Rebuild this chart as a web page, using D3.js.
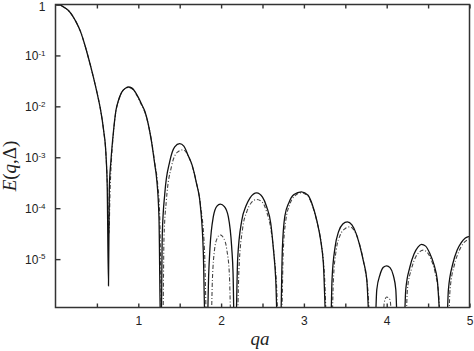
<!DOCTYPE html>
<html>
<head>
<meta charset="utf-8">
<script src="https://cdn.jsdelivr.net/npm/d3@7"></script>
<style>
  body { margin: 0; background: #fff; }
  svg { display: block; }
</style>
</head>
<body>
<script>
// solid curve, 0 = curve touches zero (off the log axis)
var solidQa = [0, 0.05, 0.1, 0.15, 0.2, 0.25, 0.3, 0.35, 0.4, 0.45, 0.5, 0.54, 0.58, 0.61, 0.625, 0.64,
  0.65, 0.67, 0.7, 0.73, 0.76, 0.8, 0.85, 0.88, 0.92, 0.96, 1.0, 1.04, 1.08, 1.12, 1.16, 1.2, 1.22, 1.25, 1.27,
  1.275, 1.29, 1.32, 1.38, 1.44, 1.5, 1.55, 1.6, 1.65, 1.7, 1.75, 1.785, 1.81,
  1.83, 1.85, 1.866, 1.906, 1.95, 1.99, 2.04, 2.087, 2.128, 2.145, 2.16,
  2.175, 2.2, 2.25, 2.3, 2.35, 2.43, 2.5, 2.55, 2.6, 2.63, 2.66, 2.685,
  2.715, 2.74, 2.77, 2.82, 2.88, 2.97, 3.05, 3.1, 3.155, 3.2, 3.235, 3.275,
  3.32, 3.34, 3.376, 3.42, 3.47, 3.524, 3.58, 3.63, 3.68, 3.72, 3.76, 3.8,
  3.855, 3.88, 3.92, 3.96, 4.0, 4.04, 4.08, 4.11, 4.135,
  4.205, 4.23, 4.28, 4.33, 4.38, 4.42, 4.47, 4.52, 4.57, 4.61, 4.665,
  4.72, 4.745, 4.8, 4.85, 4.9, 4.95, 5.0];
var solidE = [1, 0.98, 0.89, 0.78, 0.62, 0.45, 0.30, 0.17, 0.087, 0.042, 0.019, 9.3e-3, 3.5e-3, 1.1e-3, 2.5e-4, 3e-6,
  2.5e-4, 8.7e-4, 3.2e-3, 8.3e-3, 1.3e-2, 1.9e-2, 2.3e-2, 2.4e-2, 2.3e-2, 1.95e-2, 1.5e-2, 1.1e-2, 7.9e-3, 4.5e-3, 2.0e-3, 7e-4, 4e-4, 6.3e-5, 0,
  0, 3.2e-5, 1.95e-4, 8.3e-4, 1.6e-3, 1.85e-3, 1.65e-3, 1.1e-3, 7e-4, 3.2e-4, 1.1e-4, 1.4e-5, 0,
  0, 5e-6, 1.7e-5, 6.8e-5, 1.1e-4, 1.2e-4, 1.07e-4, 6.8e-5, 1.7e-5, 5e-6, 0,
  0, 1e-5, 5.8e-5, 1.1e-4, 1.6e-4, 2e-4, 1.65e-4, 1.07e-4, 5e-5, 1.7e-5, 4e-6, 0,
  0, 1.6e-5, 7e-5, 1.3e-4, 1.85e-4, 2.1e-4, 1.8e-4, 1.2e-4, 5.8e-5, 2.5e-5, 8.3e-6, 0,
  0, 4e-6, 1.7e-5, 3.5e-5, 4.9e-5, 5.4e-5, 4.7e-5, 3.2e-5, 1.7e-5, 8.9e-6, 3.9e-6, 0,
  0, 2.5e-6, 5e-6, 6.9e-6, 7.4e-6, 6.8e-6, 4.8e-6, 2.5e-6, 0,
  0, 2.5e-6, 7e-6, 1.26e-5, 1.74e-5, 1.95e-5, 1.8e-5, 1.3e-5, 7.9e-6, 4e-6, 0,
  0, 2.5e-6, 8.3e-6, 1.5e-5, 2.1e-5, 2.6e-5, 2.8e-5];

// dash-dot curve
var dashQa = [0, 0.05, 0.1, 0.15, 0.2, 0.25, 0.3, 0.35, 0.4, 0.45, 0.5, 0.54, 0.58, 0.61, 0.63, 0.645,
  0.66, 0.67, 0.7, 0.73, 0.76, 0.8, 0.85, 0.88, 0.92, 0.96, 1.0, 1.04, 1.08, 1.12, 1.16, 1.2, 1.23, 1.26, 1.285,
  1.295, 1.31, 1.34, 1.4, 1.47, 1.54, 1.6, 1.65, 1.7, 1.75, 1.8, 1.83,
  1.875, 1.895, 1.92, 1.95, 1.99, 2.03, 2.07, 2.1, 2.125,
  2.19, 2.215, 2.26, 2.31, 2.36, 2.43, 2.5, 2.55, 2.6, 2.64, 2.67, 2.695,
  2.725, 2.75, 2.78, 2.83, 2.89, 2.97, 3.05, 3.1, 3.16, 3.21, 3.245, 3.285,
  3.335, 3.355, 3.39, 3.44, 3.5, 3.55, 3.6, 3.65, 3.7, 3.74, 3.77, 3.81,
  3.95, 3.97, 4.0, 4.04, 4.075,
  4.225, 4.25, 4.3, 4.35, 4.4, 4.44, 4.49, 4.54, 4.59, 4.625, 4.66,
  4.74, 4.765, 4.82, 4.87, 4.92, 4.96, 5.0];
var dashE = [1, 0.98, 0.89, 0.78, 0.62, 0.45, 0.30, 0.17, 0.087, 0.042, 0.019, 9.3e-3, 3.5e-3, 1.1e-3, 2e-4, 3.2e-5,
  2.5e-4, 6e-4, 3e-3, 8e-3, 1.28e-2, 1.88e-2, 2.28e-2, 2.35e-2, 2.25e-2, 1.9e-2, 1.45e-2, 1.05e-2, 7.6e-3, 4.5e-3, 2.1e-3, 7.5e-4, 3.5e-4, 6e-5, 0,
  0, 2.5e-5, 1.5e-4, 6.5e-4, 1.25e-3, 1.4e-3, 1.1e-3, 6.8e-4, 3.3e-4, 1.2e-4, 1.4e-5, 0,
  0, 4e-6, 1.5e-5, 2.5e-5, 3e-5, 2.6e-5, 1.5e-5, 5e-6, 0,
  0, 6e-6, 4e-5, 8.5e-5, 1.25e-4, 1.48e-4, 1.3e-4, 8.5e-5, 4e-5, 1.2e-5, 3e-6, 0,
  0, 1.3e-5, 5.5e-5, 1.2e-4, 1.75e-4, 2e-4, 1.7e-4, 1.15e-4, 5.3e-5, 2e-5, 6e-6, 0,
  0, 3.5e-6, 1.5e-5, 3e-5, 4e-5, 4.3e-5, 3.8e-5, 2.6e-5, 1.3e-5, 6e-6, 2.8e-6, 0,
  0, 1.4e-6, 1.8e-6, 1.6e-6, 0,
  0, 2.5e-6, 6.5e-6, 1.1e-5, 1.4e-5, 1.5e-5, 1.35e-5, 9.5e-6, 5e-6, 2.3e-6, 0,
  0, 2.5e-6, 8e-6, 1.4e-5, 2e-5, 2.3e-5, 2.5e-5];

var xTicks = [0.5, 1, 1.5, 2, 2.5, 3, 3.5, 4, 4.5, 5];
var xLabels = [1, 2, 3, 4, 5];
var yExp = [0, -1, -2, -3, -4, -5];

var width = 474, height = 351;
var plot = { left: 55.5, right: 469.5, top: 4.5, bottom: 307.5 };
var floorE = 3e-7; // where a zero is drawn (below the axis, clipped)

var x = d3.scaleLinear().domain([0, 5]).range([plot.left, plot.right]);
var y = d3.scaleLog().domain([Math.pow(10, -5.95), 1]).range([plot.bottom, plot.top]);

var svg = d3.select("body").append("svg")
  .attr("width", width)
  .attr("height", height);

svg.append("clipPath").attr("id", "clip")
  .append("rect")
  .attr("x", plot.left).attr("y", plot.top)
  .attr("width", plot.right - plot.left)
  .attr("height", plot.bottom - plot.top);

var line = d3.line()
  .x(function (d) { return x(d[0]); })
  .y(function (d) { return y(d[1] > 0 ? d[1] : floorE); })
  .curve(d3.curveMonotoneX);

var lines = svg.append("g").attr("clip-path", "url(#clip)");

lines.append("path")
  .datum(d3.zip(dashQa, dashE))
  .attr("fill", "none")
  .attr("stroke", "#444")
  .attr("stroke-width", 1.1)
  .attr("stroke-dasharray", "4,2,1,2")
  .attr("d", line);

lines.append("path")
  .datum(d3.zip(solidQa, solidE))
  .attr("fill", "none")
  .attr("stroke", "#111")
  .attr("stroke-width", 1.3)
  .attr("d", line);

// axes, ticks pointing inward
var bottomAxis = d3.axisBottom(x)
  .tickValues(xTicks)
  .tickSize(-4)
  .tickPadding(9)
  .tickFormat(function (d) { return xLabels.indexOf(d) >= 0 ? d : ""; });

var topAxis = d3.axisTop(x)
  .tickValues(xTicks)
  .tickSize(-4)
  .tickFormat("");

var leftAxis = d3.axisLeft(y)
  .tickValues(yExp.map(function (e) { return Math.pow(10, e); }))
  .tickSize(-5)
  .tickPadding(10)
  .tickFormat("");

function styleAxis(g) {
  g.select(".domain").remove();
  g.selectAll(".tick line").attr("stroke", "#333").attr("stroke-width", 1.4);
  g.selectAll("text")
    .attr("font-family", "Liberation Sans, Arial, sans-serif")
    .attr("font-size", 12)
    .attr("fill", "#222");
}

svg.append("g")
  .attr("transform", "translate(0," + plot.bottom + ")")
  .call(bottomAxis)
  .call(styleAxis);

svg.append("g")
  .attr("transform", "translate(0," + plot.top + ")")
  .call(topAxis)
  .call(styleAxis);

var gy = svg.append("g")
  .attr("transform", "translate(" + plot.left + ",0)")
  .call(leftAxis)
  .call(styleAxis);

// decade labels with superscripts
gy.selectAll(".tick text").each(function (d, i) {
  var t = d3.select(this).attr("dy", "0.35em");
  var e = yExp[i];
  if (e === 0) {
    t.attr("dy", "0.5em").text("1"); // nudged down so it stays inside the page
  } else {
    t.append("tspan").text("10");
    t.append("tspan")
      .attr("dy", "-0.55em")
      .attr("font-size", 8)
      .text(String(e));
  }
});

// frame
svg.append("rect")
  .attr("x", plot.left).attr("y", plot.top)
  .attr("width", plot.right - plot.left)
  .attr("height", plot.bottom - plot.top)
  .attr("fill", "none")
  .attr("stroke", "#333")
  .attr("stroke-width", 1.5);

// axis titles
svg.append("text")
  .attr("x", 260).attr("y", 345)
  .attr("text-anchor", "middle")
  .attr("font-family", "Liberation Serif, Times New Roman, serif")
  .attr("font-style", "italic")
  .attr("font-size", 19)
  .attr("fill", "#222")
  .text("qa");

var yt = svg.append("text")
  .attr("transform", "translate(16,166) rotate(-90)")
  .attr("text-anchor", "middle")
  .attr("font-family", "Liberation Serif, Times New Roman, serif")
  .attr("font-size", 19)
  .attr("fill", "#222");
yt.append("tspan").attr("font-style", "italic").text("E");
yt.append("tspan").text("(");
yt.append("tspan").attr("font-style", "italic").text("q");
yt.append("tspan").text(",Δ)");
</script>
</body>
</html>
